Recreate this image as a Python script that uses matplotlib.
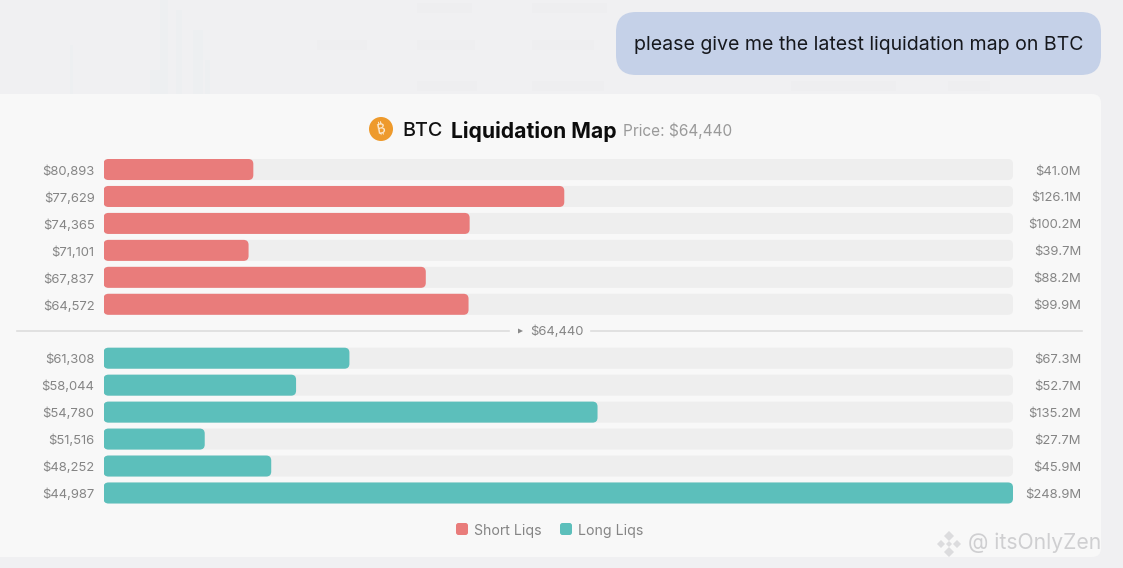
import matplotlib
matplotlib.use("Agg")
import matplotlib.pyplot as plt
from matplotlib.patches import FancyBboxPatch, Rectangle, Circle, Polygon

plt.rcParams["font.family"] = ["Inter", "DejaVu Sans"]

# --- data ---
short_prices = ["$80,893", "$77,629", "$74,365", "$71,101", "$67,837", "$64,572"]
short_values = [41.0, 126.1, 100.2, 39.7, 88.2, 99.9]
long_prices = ["$61,308", "$58,044", "$54,780", "$51,516", "$48,252", "$44,987"]
long_values = [67.3, 52.7, 135.2, 27.7, 45.9, 248.9]
current_price = "$64,440"
max_value = 248.9

RED = "#e97c7b"
TEAL = "#5cbfbb"
TRACK = "#eeeeee"
GREY = "#858585"

W, H = 1123, 568
fig = plt.figure(figsize=(W / 100, H / 100), dpi=100, facecolor="#f0f0f2")

# overlay in pixel coordinates for the page furniture
page = fig.add_axes([0, 0, 1, 1])
page.set_xlim(0, W)
page.set_ylim(H, 0)
page.axis("off")


def round_box(ax, x, y, w, h, r, color, aspect=1.0, z=2):
    box = FancyBboxPatch((x, y), w, h, boxstyle=f"round,pad=0,rounding_size={r}",
                         mutation_aspect=aspect, fc=color, ec="none", zorder=z)
    ax.add_patch(box)


# the page behind the card is unreadable, only faint smudges show through
smudge = "#eeeef0"
for gx, gy, gw in [(417, 8, 55), (532, 8, 75), (317, 45, 50), (417, 45, 58), (532, 45, 62),
                   (417, 86, 60), (532, 86, 72), (791, 86, 105), (948, 86, 42)]:
    page.add_patch(Rectangle((gx, gy - 5), gw, 10, fc=smudge, ec="none", zorder=0))
for gx, gw, gy in [(160, 8, 0), (176, 6, 10), (193, 10, 30), (70, 3, 45), (150, 14, 70), (205, 5, 60)]:
    page.add_patch(Rectangle((gx, gy), gw, 94 - gy, fc="#edeff1", ec="none", zorder=0))

# card and question bubble
round_box(page, -20, 94, 1121, 463, 9, "#f8f8f8", z=1)
round_box(page, 616, 12, 485, 63, 20, "#c5d1e8", z=1)
page.text(859, 45, "please give me the latest liquidation map on BTC", fontsize=14.05,
          color="#16181d", ha="center", va="center")

# title row
page.add_patch(Circle((381, 129), 12, fc="#ee9a2c", ec="none", zorder=3))
page.text(381, 129.5, "₿", fontsize=11, color="#fdeed8", ha="center", va="center",
          fontweight="bold", rotation=12, zorder=4,
          family=["Noto Sans", "Roboto", "Open Sans", "Lato", "Liberation Sans", "Noto Sans CJK SC", "DejaVu Sans"])
page.text(402, 131, "BTC", fontsize=14.2, color="#111111", va="center", fontweight="medium")
page.text(451, 131.5, "Liquidation Map", fontsize=15.2, color="#0c0c0c", va="center", fontweight="bold")
page.text(623, 131, "Price: $64,440", fontsize=11.1, color="#9a9a9a", va="center")

# bars, row 6 is the gap with the current price
ax = fig.add_axes([103.5 / W, 1 - 503.5 / H, 909.5 / W, 344.5 / H])
ax.patch.set_alpha(0)
ax.set_xlim(0, max_value)
ax.set_ylim(12.39, -0.39)
ax.axis("off")
aspect = (909.5 / max_value) / (344.5 / 12.78)
r = 5 / (909.5 / max_value)

prices = short_prices + long_prices
values = short_values + long_values
colors = [RED] * len(short_values) + [TEAL] * len(long_values)
rows = list(range(6)) + list(range(7, 13))
bar_h = 0.78
for row, price, val, col in zip(rows, prices, values, colors):
    round_box(ax, 0, row - bar_h / 2, max_value, bar_h, r, TRACK, aspect, z=2)
    round_box(ax, 0, row - bar_h / 2, val, bar_h, r, col, aspect, z=3)
    ax.annotate(price, (0, row), xytext=(-9, -2), textcoords="offset pixels",
                ha="right", va="center", fontsize=9.4, color=GREY, annotation_clip=False)
    ax.annotate(f"${val:.1f}M", (max_value, row), xytext=(68, -2), textcoords="offset pixels",
                ha="right", va="center", fontsize=9.4, color=GREY, annotation_clip=False)

# divider with current price
page.plot([17, 509], [331, 331], color="#dddddd", lw=1.2, zorder=2)
page.plot([591, 1082], [331, 331], color="#dddddd", lw=1.2, zorder=2)
page.add_patch(Polygon([(518, 328.5), (518, 333.5), (523, 331)], fc="#8a8a8a", ec="none", zorder=3))
page.text(530, 331.5, current_price, fontsize=9.4, color=GREY, va="center")

# legend
round_box(page, 456, 523, 12, 12, 2.5, RED, z=3)
page.text(474, 530.5, "Short Liqs", fontsize=10.2, color=GREY, va="center")
round_box(page, 560, 523, 12, 12, 2.5, TEAL, z=3)
page.text(578, 530.5, "Long Liqs", fontsize=10.2, color=GREY, va="center")

# watermark, logo built from small diamonds
wm = "#dcdcde"
for cx, cy, s in [(949, 536, 5), (941, 544, 4), (957, 544, 4), (949, 552, 5), (949, 544, 3)]:
    page.add_patch(Polygon([(cx, cy - s), (cx + s, cy), (cx, cy + s), (cx - s, cy)],
                           fc=wm, ec="none", zorder=5))
page.text(968, 543, "@ itsOnlyZen", fontsize=15.2, color="#cfcfd1", va="center", zorder=5)

fig.savefig("out.png", dpi=100, facecolor=fig.get_facecolor())
